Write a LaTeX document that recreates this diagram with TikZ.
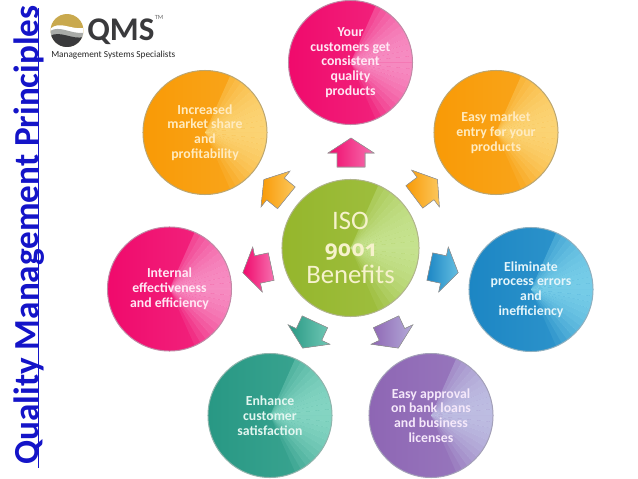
\documentclass[tikz,border=0pt]{standalone}
\usepackage{fontspec}
\setmainfont{Carlito}
\newfontfamily\oldnum[Numbers=OldStyle]{Open Sans}
\definecolor{titleblue}{HTML}{1414C8}
\definecolor{logodark}{HTML}{3A3A3C}
\definecolor{logogold}{HTML}{C9A94E}
\definecolor{logogrey}{HTML}{A9ABA8}
\definecolor{pinkmain}{HTML}{F00A6C}
\definecolor{pinklight}{HTML}{F8A8D4}
\definecolor{pinktext}{HTML}{FFE8F4}
\definecolor{pinkrim}{HTML}{C08AA6}
\definecolor{orangemain}{HTML}{F99A06}
\definecolor{orangelight}{HTML}{FCE08C}
\definecolor{orangetext}{HTML}{FFEBC0}
\definecolor{orangerim}{HTML}{BBA672}
\definecolor{bluemain}{HTML}{1C86C4}
\definecolor{bluelight}{HTML}{8ADCF0}
\definecolor{bluetext}{HTML}{E4F5FA}
\definecolor{bluerim}{HTML}{8FB0C0}
\definecolor{purplemain}{HTML}{8E66B4}
\definecolor{purplelight}{HTML}{C8D0EC}
\definecolor{purpletext}{HTML}{F5E8FA}
\definecolor{purplerim}{HTML}{A3A0B8}
\definecolor{tealmain}{HTML}{289884}
\definecolor{teallight}{HTML}{98E2D0}
\definecolor{tealtext}{HTML}{E2F6F0}
\definecolor{tealrim}{HTML}{90B4AC}
\definecolor{greenmain}{HTML}{95B62C}
\definecolor{greenlight}{HTML}{D0ECA4}
\definecolor{greentext}{HTML}{F6F2CC}
\definecolor{greenrim}{HTML}{B0B48C}
\tikzset{
  bubble/.style={circle, draw=#1rim, line width=0.7pt, minimum size=3.1cm, inner sep=0pt,
    align=center, text=#1text, font=\fontsize{9.8}{10.5}\selectfont\bfseries,
    left color=#1main, right color=#1main!80!#1light,
    path picture={
      \foreach \a [evaluate=\a as \op using {0.78*(1-((\a-2)/74)^2)}] in {-72,-66,...,60}
        \fill[#1light, fill opacity=\op] (path picture bounding box.center)
          -- +(\a:2.4cm) -- +(\a+6.05:2.4cm) -- cycle;
    }},
  pics/blockarrow/.style={code={
      \fill[left color=#1main, middle color=#1main, right color=#1main!35!#1light, draw=black!40, line width=0.4pt]
        (0,-15) -- (23,0) -- (14,0) -- (14,14) -- (-14,14) -- (-14,0) -- (-23,0) -- cycle;
    }},
}
\begin{document}
\begin{tikzpicture}[x=0.025cm, y=-0.025cm]
    \useasboundingbox (0,0) rectangle (638,479);
    % title
    \node[rotate=90, inner sep=0pt, text depth=0pt, text=titleblue, font=\fontsize{25}{28}\selectfont\bfseries, anchor=south] (title) at (38.5,235) {Quality Management Principles};
    \draw[titleblue, line width=0.8pt] ([yshift=-2pt]title.south west) -- ([yshift=-2pt]title.south east);
    % logo
    \begin{scope}
      \clip (67,30.5) circle (16.5);
      \fill[logogold] (50,14) rectangle (84,47);
      \fill[white] (50,29) .. controls (60,20) and (70,30) .. (84,28) -- (84,47) -- (50,47) -- cycle;
      \fill[logogrey] (50,31) .. controls (60,25) and (70,34) .. (84,33) -- (84,47) -- (50,47) -- cycle;
      \fill[logodark] (50,36) .. controls (60,30) and (72,40) .. (84,37) -- (84,47) -- (50,47) -- cycle;
    \end{scope}
    \node[anchor=west, inner sep=0pt, text=logodark, font=\fontsize{23.5}{26}\selectfont\bfseries] (qms) at (87,31.5) {QMS};
    \node[inner sep=0pt, text=black!60, font=\fontsize{4.5}{5}\selectfont] (tm) at (159,17) {TM};
    \node[anchor=west, inner sep=0pt, text=black!85, font=\fontsize{6.6}{8}\selectfont] (subtitle) at (51,55) {Management Systems Specialists};
    % benefits
    \node[bubble=pink] (customers) at (350.5,62.5) {Your\\customers get\\consistent\\quality\\products};
    \node[bubble=orange] (market) at (496,132.5) {Easy market\\entry for your\\products};
    \node[bubble=blue] (errors) at (531,289.5) {Eliminate\\process errors\\and\\inefficiency};
    \node[bubble=purple] (approval) at (431,415.5) {Easy approval\\on bank loans\\and business\\licenses};
    \node[bubble=teal] (satisfaction) at (270,415.5) {Enhance\\customer\\satisfaction};
    \node[bubble=pink] (internal) at (169.5,289) {Internal\\effectiveness\\and efficiency};
    \node[bubble=orange] (share) at (205,132.5) {Increased\\market share\\and\\profitability};
    \node[bubble=green, minimum size=3.425cm, font=\fontsize{19}{19.5}\selectfont] (iso) at (350.5,248) {ISO\\{\oldnum\bfseries\fontsize{16}{19.5}\selectfont 9001}\\Benefits};
    % arrows
    \pic[rotate=0] (toCustomers) at (351,153) {blockarrow=pink};
    \pic[rotate=-53] (toMarket) at (425.5,188.5) {blockarrow=orange};
    \pic[rotate=-102] (toErrors) at (443.5,269.5) {blockarrow=blue};
    \pic[rotate=-155] (toApproval) at (392,334.5) {blockarrow=purple};
    \pic[rotate=155] (toSatisfaction) at (309,334.5) {blockarrow=teal};
    \pic[rotate=102] (toInternal) at (257.5,269.5) {blockarrow=pink};
    \pic[rotate=51] (toShare) at (275.5,189) {blockarrow=orange};
\end{tikzpicture}
\end{document}
